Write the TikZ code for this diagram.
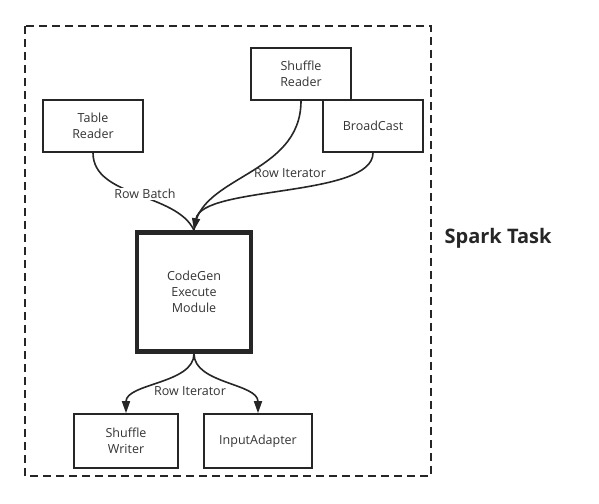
\documentclass[tikz,border=0pt]{standalone}
\usepackage{fontspec}
\setmainfont{Open Sans}
\usepackage{tikz}
\usetikzlibrary{arrows.meta}

\begin{document}
\begin{tikzpicture}[x=1pt,y=-1pt,
		box/.style={draw=black!85,line width=1.6pt,minimum width=100pt,minimum height=52pt,align=center,font=\fontsize{12.5}{16}\selectfont,text=black!80},
		flow/.style={line width=1.6pt,draw=black!85},
		tip/.style={-{Triangle[width=8pt,length=12pt]}},
		lbl/.style={font=\fontsize{12.5}{16}\selectfont,text=black!80}]
					\useasboundingbox (0,0) rectangle (599,503);
					\draw[dashed,dash pattern=on 8pt off 5pt,line width=1.6pt,black!85] (25,26) rectangle (431,476);
					\node[box] (tablereader) at (93,126) {Table\\Reader};
					\node[box] (shufflereader) at (301,74) {Shuffle\\Reader};
					\node[box] (broadcast) at (373,126) {BroadCast};
					\node[box,line width=4.5pt,minimum width=114pt,minimum height=119pt] (codegen) at (194,292) {CodeGen\\Execute\\Module};
					\node[box,minimum width=104pt,minimum height=54pt] (shufflewriter) at (126,441) {Shuffle\\Writer};
					\node[box,minimum width=108pt,minimum height=54pt] (inputadapter) at (258,441) {InputAdapter};
					\node[font=\fontsize{20}{24}\selectfont\bfseries,text=black!85] (sparktask) at (498,238) {Spark Task};
					% into the module
					\draw[flow] (tablereader.south) .. controls +(0,45) and +(-18,-38) .. (codegen.north);
					\node[lbl,fill=white,inner sep=1pt] (rowbatch) at (145,194) {Row Batch};
					\draw[flow] (shufflereader.south) .. controls +(0,75) and +(4,-55) .. (codegen.north);
					\draw[flow,tip] (broadcast.south) .. controls +(0,45) and +(8,-45) .. (codegen.north);
					\node[lbl] (rowiterator) at (290,173) {Row Iterator};
					% out of the module
					\draw[flow,tip] (codegen.south) .. controls +(0,30) and +(0,-30) .. (shufflewriter.north);
					\draw[flow,tip] (codegen.south) .. controls +(0,30) and +(0,-30) .. (inputadapter.north);
					\node[lbl] (rowiterator2) at (190,391) {Row Iterator};
				\end{tikzpicture}
\end{document}
